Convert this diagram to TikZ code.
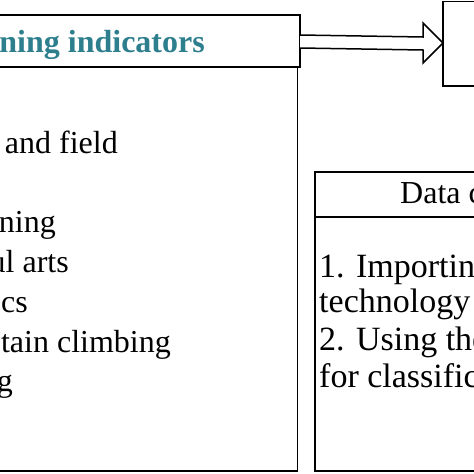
\documentclass[tikz,border=0pt]{standalone}
\usepackage{fontspec}
\setmainfont{Liberation Serif}
\definecolor{teal1}{RGB}{46,127,142}
\begin{document}
\begin{tikzpicture}[x=1pt,y=-1pt,
  box/.style={draw=black,line width=1.6pt},
  ltxt/.style={inner sep=0pt,anchor=base east,font=\fontsize{32}{38}\selectfont},
  rtxt/.style={inner sep=0pt,anchor=base west,font=\fontsize{34}{40}\selectfont},
  htxt/.style={inner sep=0pt,anchor=base west,font=\fontsize{32}{38}\selectfont},
  ttl/.style={inner sep=0pt,anchor=base east,text=teal1,font=\fontsize{32}{38}\selectfont\bfseries}]
\useasboundingbox (0,0) rectangle (474,474);
% left box
\draw[box] (-20,66) rectangle (297.5,471);
\draw[box,fill=white] (-20,15) rectangle (300,67);
\node[ttl] (t) at (205,52) {ning indicators};
\node[ltxt] (l1) at (118,153) {and field};
\node[ltxt] (l2) at (56,232) {ning};
\node[ltxt] (l3) at (69,272) {ul arts};
\node[ltxt] (l4) at (28,312) {cs};
\node[ltxt] (l5) at (171,352) {tain climbing};
\node[ltxt] (l6) at (13,391) {g};
% top right box
\draw[box] (443,1.5) rectangle (490,86);
% arrow
\draw[line width=1.5pt,fill=white,line join=miter]
  (300,35) -- (423,37) -- (423,23) -- (443,43) -- (423,63) -- (423,50) -- (300,48);
% right box
\draw[box] (315,172) rectangle (490,471);
\draw[box] (315,217) -- (490,217);
\node[htxt] (r0) at (400,203) {Data c};
\node[rtxt] (r1) at (319,277) {1. Importing};
\node[rtxt] (r2) at (319,312) {technology};
\node[rtxt] (r3) at (319,350) {2. Using the};
\node[rtxt] (r4) at (319,387) {for classific};
\end{tikzpicture}
\end{document}
